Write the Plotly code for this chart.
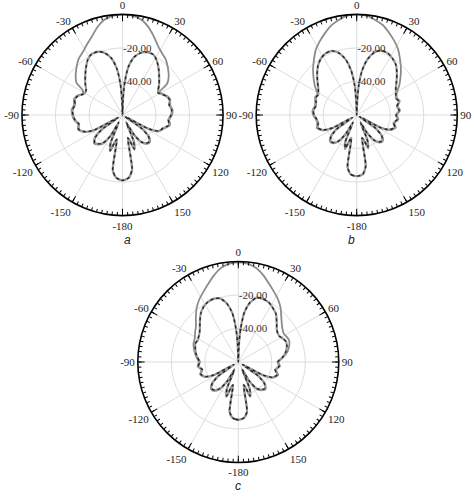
import plotly.graph_objects as go

# angles (deg), right half 0..180 and left half 0..-180
THETA_RIGHT = [0, 2, 4, 7, 11, 16, 21, 27, 32, 38, 44, 50, 55, 58, 62, 67, 72, 78, 84, 90,
               96, 102, 108, 114, 118, 121, 125, 130, 135, 140, 145, 150, 153, 157, 161,
               164, 167, 170, 174, 177, 180]
THETA_LEFT = [0, -2, -4, -7, -11, -16, -21, -27, -32, -38, -44, -50, -55, -58, -62, -67, -72,
              -78, -84, -90, -96, -102, -108, -114, -118, -121, -125, -130, -135, -140, -145,
              -150, -153, -157, -161, -164, -167, -170, -174, -177, -180]

# plot a
SOLID_A_RIGHT = [0, -0.1, -0.3, -0.8, -2, -5, -9, -13.5, -16, -18, -21, -24, -27.5, -34, -33,
                 -31, -30, -31, -30, -30.5, -32, -31, -34, -36, -42, -58, -45, -39, -37, -37.5,
                 -40, -47, -55, -42, -38, -44, -46, -27, -22.5, -21.5, -21]
SOLID_A_LEFT = [0, -0.1, -0.3, -0.9, -2.3, -5.5, -9.5, -13, -15.5, -17.5, -20.5, -23.5, -26.5,
                -32, -33, -30.5, -29.5, -30.5, -29.5, -30, -31, -33, -32, -35, -40, -57, -44,
                -38, -36, -37, -39, -45, -55, -41, -37, -43, -45, -26.5, -22.5, -21.5, -21]
DOTTED_A_RIGHT = [-60, -50, -40, -31, -25, -21.5, -19.8, -19.5, -21.5, -25, -28.5, -31.5, -34,
                  -35, -33.5, -31.5, -30.5, -31.5, -30.5, -31, -32.5, -31.5, -34.5, -36.5, -43,
                  -58, -46, -39.5, -37.5, -38, -40.5, -47, -55, -43, -38.5, -44, -46, -27,
                  -22.5, -21.5, -21]
DOTTED_A_LEFT = [-60, -51, -41, -32, -25.5, -21.5, -19.5, -19.2, -21, -24.5, -28, -31, -33.5,
                 -34, -33.5, -31, -30, -31, -30, -30.5, -31.5, -33.5, -32.5, -35.5, -41, -57,
                 -45, -38.5, -36.5, -37.5, -39.5, -45.5, -55, -42, -37.5, -43, -45, -26.5,
                 -22.5, -21.5, -21]

# plot b
SOLID_B_RIGHT = [0, -0.1, -0.3, -0.8, -2.2, -4, -7, -10.5, -13.5, -18, -22, -26, -29, -31, -33,
                 -34, -33, -35, -34, -36, -35, -37, -35.5, -38, -44, -58, -46, -40, -38, -38.5,
                 -41, -48, -55, -43, -39, -44, -46, -29, -24.5, -23.8, -23.5]
SOLID_B_LEFT = [0, -0.1, -0.3, -0.9, -2.4, -4.5, -7.5, -11, -14, -18.5, -22.5, -26.5, -29.5,
                -31.5, -33.5, -33, -34, -34.5, -33.5, -34, -35.5, -36, -35, -37.5, -43, -57,
                -45, -39.5, -37.5, -38, -40.5, -47, -55, -42, -38.5, -43.5, -46, -28.5, -24.5,
                -23.8, -23.5]
DOTTED_B_RIGHT = [-60, -52, -42, -33, -26, -21, -18.8, -18.8, -20, -22, -25.5, -29, -31.5,
                  -32.5, -33.5, -34.5, -33.5, -35.5, -34.5, -36.5, -35.5, -37.5, -36, -38.5,
                  -44, -58, -46.5, -40.5, -38.5, -39, -41.5, -48, -55, -43.5, -39.5, -44.5,
                  -46, -29, -24.5, -23.8, -23.5]
DOTTED_B_LEFT = [-60, -52, -42, -33.5, -26.5, -21.5, -19, -18.8, -20, -22.5, -26, -29.5, -32,
                 -33, -34, -33.5, -34.5, -35, -34, -34.5, -36, -36.5, -35.5, -38, -43.5, -57,
                 -45.5, -40, -38, -38.5, -41, -47.5, -55, -42.5, -39, -44, -46, -28.5, -24.5,
                 -23.8, -23.5]

# plot c
SOLID_C_RIGHT = [-0.5, -0.6, -0.8, -1.5, -3, -6, -9.5, -13, -15.5, -19, -23, -26, -27.5, -28,
                 -27.5, -27, -28, -30, -33, -36, -35, -37, -35, -37, -43, -57, -45, -39, -37,
                 -38, -40, -47, -55, -42, -38, -44, -46, -30, -26.5, -25.8, -25.5]
SOLID_C_LEFT = [-0.5, -0.6, -0.8, -1.6, -3.2, -6.5, -10, -13.5, -16, -19.5, -23.5, -27, -28.5,
                -29.5, -30.5, -31, -32, -33.5, -35, -36.5, -35.5, -37.5, -36, -38, -43, -57,
                -45, -39, -37, -37.5, -40, -46.5, -55, -42, -38, -43.5, -46, -30, -26.5,
                -25.8, -25.5]
DOTTED_C_RIGHT = [-60, -50, -40, -30, -24, -20, -19.5, -20, -21.5, -23.5, -27, -30, -31, -31,
                  -30, -29, -29.5, -31, -33.5, -36.5, -35.5, -37.5, -35.5, -37.5, -43.5, -57,
                  -45.5, -39.5, -37.5, -38.5, -40.5, -47, -55, -42.5, -38.5, -44, -46, -30,
                  -26.5, -25.8, -25.5]
DOTTED_C_LEFT = [-60, -50, -40, -30.5, -24.5, -20.5, -19.5, -19.8, -21, -23.5, -27, -30, -31.5,
                 -32, -32.5, -32, -33, -34, -35.5, -37, -36, -38, -36.5, -38.5, -43.5, -57,
                 -45.5, -39.5, -37.5, -38, -40.5, -47, -55, -42.5, -38.5, -44, -46, -30,
                 -26.5, -25.8, -25.5]

ANGLE_TICKS = [0, 30, 60, 90, 120, 150, 180, 210, 240, 270, 300, 330]
ANGLE_LABELS = ["0", "30", "60", "90", "120", "150", "-180", "-150", "-120", "-90", "-60", "-30"]
RADIAL_TICKS = [-40, -20]
RADIAL_LABELS = ["-40.00", "-20.00"]

PANELS = [
    ("a", SOLID_A_LEFT, SOLID_A_RIGHT, DOTTED_A_LEFT, DOTTED_A_RIGHT),
    ("b", SOLID_B_LEFT, SOLID_B_RIGHT, DOTTED_B_LEFT, DOTTED_B_RIGHT),
    ("c", SOLID_C_LEFT, SOLID_C_RIGHT, DOTTED_C_LEFT, DOTTED_C_RIGHT),
]

# polar domains (paper coords) and caption positions
DOMAINS = {
    "a": dict(x=[0.0463, 0.4706], y=[0.5689, 0.9720]),
    "b": dict(x=[0.5404, 0.9647], y=[0.5689, 0.9720]),
    "c": dict(x=[0.2907, 0.7148], y=[0.0769, 0.4780]),
}
CAPTIONS = {"a": (0.258, 0.521), "b": (0.753, 0.521), "c": (0.502, 0.012)}

SERIF = "Liberation Serif, Times New Roman, serif"


def join_halves(left, right):
    return left[::-1] + right[1:]


fig = go.Figure()
theta = join_halves(THETA_LEFT, THETA_RIGHT)

layout = {}
for i, (name, s_left, s_right, d_left, d_right) in enumerate(PANELS):
    main = "polar" if i == 0 else f"polar{2 * i + 1}"
    over = f"polar{2 * i + 2}"
    dom = DOMAINS[name]

    solid = join_halves(s_left, s_right)
    dotted = join_halves(d_left, d_right)

    fig.add_trace(go.Scatterpolar(
        r=solid, theta=theta, subplot=main, mode="lines",
        line=dict(color="#8c8c8c", width=1.8, shape="spline", smoothing=0.6),
        showlegend=False, hoverinfo="skip"))
    fig.add_trace(go.Scatterpolar(
        r=dotted, theta=theta, subplot=main, mode="lines",
        line=dict(color="#9a9a9a", width=2.2, shape="spline", smoothing=0.6),
        showlegend=False, hoverinfo="skip"))
    fig.add_trace(go.Scatterpolar(
        r=dotted, theta=theta, subplot=main, mode="lines",
        line=dict(color="#222222", width=1.4, dash="dot", shape="spline", smoothing=0.6),
        showlegend=False, hoverinfo="skip"))
    # empty trace so the tick overlay gets drawn
    fig.add_trace(go.Scatterpolar(r=[], theta=[], subplot=over, showlegend=False))

    layout[main] = dict(
        domain=dom,
        bgcolor="white",
        angularaxis=dict(
            rotation=90, direction="clockwise",
            tickmode="array", tickvals=ANGLE_TICKS, ticktext=ANGLE_LABELS,
            ticks="inside", ticklen=6, tickwidth=1, tickcolor="black",
            showline=True, linecolor="black", linewidth=1.6,
            gridcolor="#dddddd", gridwidth=1,
            tickfont=dict(family=SERIF, size=11, color="#222"),
        ),
        radialaxis=dict(
            range=[-60, 0], angle=90, tickangle=90,
            tickmode="array", tickvals=RADIAL_TICKS, ticktext=RADIAL_LABELS,
            showline=False, ticks="", gridcolor="#dddddd", gridwidth=1,
            tickfont=dict(family=SERIF, size=11, color="#333"),
        ),
    )
    layout[over] = dict(
        domain=dom,
        bgcolor="rgba(0,0,0,0)",
        angularaxis=dict(
            rotation=90, direction="clockwise", dtick=3, tick0=0,
            ticks="inside", ticklen=3, tickwidth=1, tickcolor="black",
            showline=False, showgrid=False, showticklabels=False,
        ),
        radialaxis=dict(range=[-60, 0], visible=False),
    )

annotations = []
for name, (cx, cy) in CAPTIONS.items():
    annotations.append(dict(
        text=f"<i>{name}</i>", x=cx, y=cy, xref="paper", yref="paper",
        showarrow=False, font=dict(family="Liberation Sans, Arial, sans-serif", size=12, color="#222")))

fig.update_layout(
    width=474, height=501,
    margin=dict(l=0, r=0, t=0, b=0),
    paper_bgcolor="white",
    annotations=annotations,
    **layout,
)

# page body has a default 8px margin; drop it so the figure fills the window
fig.write_html("out.html", config={"displayModeBar": False},
               post_script="document.body.style.margin='0px';")
